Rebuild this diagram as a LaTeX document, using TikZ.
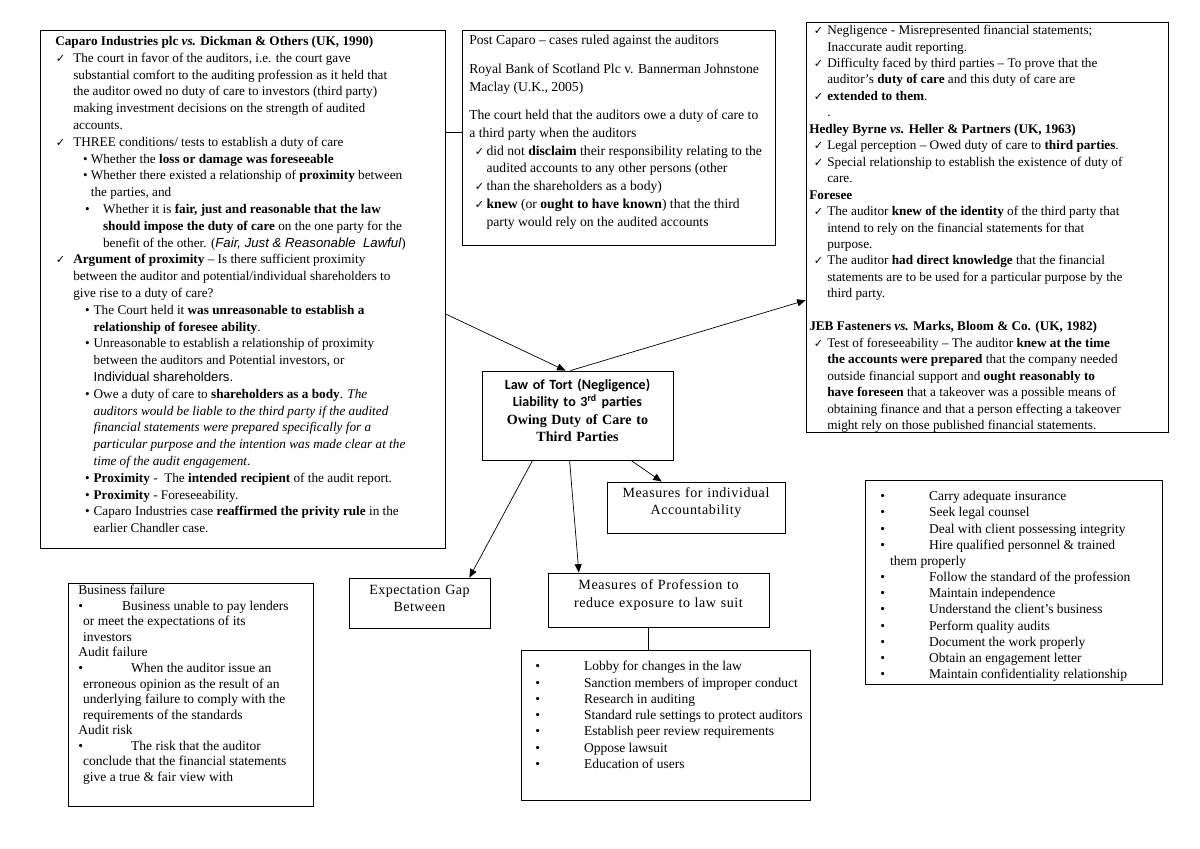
\documentclass[tikz,border=0pt]{standalone}
\usepackage{fontspec}
\setmainfont{Liberation Serif}
\setsansfont{Liberation Sans}
\newfontfamily\calibri{Carlito}
\newfontfamily\dejavu{DejaVu Sans}
\usetikzlibrary{fit,arrows.meta}

\newcommand{\tick}[1][12.8pt]{\makebox[#1][l]{\hspace{0.5pt}{\dejavu\fontsize{8}{8}\selectfont ✓}}}
\newcommand{\ind}[1][12.8pt]{\hspace*{#1}}
\newcommand{\blt}[2]{\hspace*{#1}\makebox[#2][l]{\textbullet}}
\newcommand{\mtick}{\ind[3.5pt]\tick[8.8pt]}
\newcommand{\rtick}{\ind[2.8pt]\tick[10pt]}

\begin{document}
\begin{tikzpicture}[x=0.025cm, y=-0.025cm,
box/.style={draw, line width=0.6pt, inner sep=0},
txt/.style={anchor=north west, inner sep=0, align=left},
arr/.style={-{Triangle[length=6pt,width=5pt]}, line width=0.5pt},
link/.style={line width=0.5pt}
]
\useasboundingbox (0,0) rectangle (1200,848);

\node[box, fit={(40,30) (445,548)}] (caparo) {};
\node[txt, font=\fontsize{9.4}{11.95}\selectfont] (caparotext) at (55,36) {%
\textbf{Caparo Industries plc \textit{vs.} Dickman \& Others (UK, 1990)}\\
\tick The court in favor of the auditors, i.e. the court gave\\
\ind substantial comfort to the auditing profession as it held that\\
\ind the auditor owed no duty of care to investors (third party)\\
\ind making investment decisions on the strength of audited\\
\ind accounts.\\
\tick THREE conditions/ tests to establish a duty of care\\
\blt{19.8pt}{5.5pt}Whether the \textbf{loss or damage was foreseeable}\\
\blt{19.8pt}{5.5pt}Whether there existed a relationship of \textbf{proximity} between\\
\ind[25.3pt]the parties, and\\
\blt{21.3pt}{12.8pt}Whether it is \textbf{fair, just and reasonable that the law}\\
\ind[34pt]\textbf{should impose the duty of care} on the one party for the\\
\ind[34pt]benefit of the other. ({\sffamily\itshape Fair, Just \& Reasonable\ \ Lawful})\\
\tick \textbf{Argument of proximity} -- Is there sufficient proximity\\
\ind between the auditor and potential/individual shareholders to\\
\ind give rise to a duty of care?\\
\blt{21.3pt}{6pt}The Court held it \textbf{was unreasonable to establish a}\\
\ind[27.3pt]\textbf{relationship of foresee ability}.\\
\blt{21.3pt}{6pt}Unreasonable to establish a relationship of proximity\\
\ind[27.3pt]between the auditors and Potential investors, or\\
\ind[27.3pt]{\sffamily Individual shareholders.}\\
\blt{21.3pt}{6pt}Owe a duty of care to \textbf{shareholders as a body}. \textit{The}\\
\ind[27.3pt]\textit{auditors would be liable to the third party if the audited}\\
\ind[27.3pt]\textit{financial statements were prepared specifically for a}\\
\ind[27.3pt]\textit{particular purpose and the intention was made clear at the}\\
\ind[27.3pt]\textit{time of the audit engagement}.\\
\blt{21.3pt}{6pt}\textbf{Proximity} -\ \ The \textbf{intended recipient} of the audit report.\\
\blt{21.3pt}{6pt}\textbf{Proximity} - Foreseeability.\\
\blt{21.3pt}{6pt}Caparo Industries case \textbf{reaffirmed the privity rule} in the\\
\ind[27.3pt]earlier Chandler case.};

\node[box, fit={(462,30) (775,245)}] (post) {};
\node[txt, font=\fontsize{9.7}{12.7}\selectfont] (posttext) at (469,35) {%
Post Caparo -- cases ruled against the auditors\\[7.5pt]
Royal Bank of Scotland Plc v. Bannerman Johnstone\\
Maclay (U.K., 2005)\\[7.5pt]
The court held that the auditors owe a duty of care to\\
a third party when the auditors\\
\mtick did not \textbf{disclaim} their responsibility relating to the\\
\ind[12.3pt]audited accounts to any other persons (other\\
\mtick than the shareholders as a body)\\
\mtick \textbf{knew} (or \textbf{ought to have known}) that the third\\
\ind[12.3pt]party would rely on the audited accounts};

\node[box, fit={(806,22) (1168,432)}] (cases) {};
\node[txt, font=\fontsize{9.4}{11.7}\selectfont] (casestext) at (809,25) {%
\rtick Negligence - Misrepresented financial statements;\\
\ind Inaccurate audit reporting.\\
\rtick Difficulty faced by third parties -- To prove that the\\
\ind auditor’s \textbf{duty of care} and this duty of care are\\
\rtick \textbf{extended to them}.\\
\ind .\\
\textbf{Hedley Byrne \textit{vs.} Heller \& Partners (UK, 1963)}\\
\rtick Legal perception -- Owed duty of care to \textbf{third parties}.\\
\rtick Special relationship to establish the existence of duty of\\
\ind care.\\
\textbf{Foresee}\\
\rtick The auditor \textbf{knew of the identity} of the third party that\\
\ind intend to rely on the financial statements for that\\
\ind purpose.\\
\rtick The auditor \textbf{had direct knowledge} that the financial\\
\ind statements are to be used for a particular purpose by the\\
\ind third party.\\[11.7pt]
\textbf{JEB Fasteners \textit{vs.} Marks, Bloom \& Co. (UK, 1982)}\\
\rtick Test of foreseeability -- The auditor \textbf{knew at the time}\\
\ind \textbf{the accounts were prepared} that the company needed\\
\ind outside financial support and \textbf{ought reasonably to}\\
\ind \textbf{have foreseen} that a takeover was a possible means of\\
\ind obtaining finance and that a person effecting a takeover\\
\ind might rely on those published financial statements.};

\node[box, fit={(482,371) (673,460)}, align=center, font=\fontsize{10}{12.2}\selectfont] (law) {%
{\calibri\bfseries Law of Tort (Negligence)}\\
{\calibri\bfseries Liability to 3\textsuperscript{rd} parties}\\
\textbf{Owing Duty of Care to}\\
\textbf{Third Parties}};

\node[box, fit={(607,482) (785,533)}, align=center, font=\fontsize{10}{12.6}\selectfont\addfontfeature{LetterSpace=4}] (indiv) {Measures for individual\\Accountability};
\node[box, fit={(349,578) (490,628)}, align=center, font=\fontsize{10}{12}\selectfont\addfontfeature{LetterSpace=3}] (gap) {Expectation Gap\\Between};
\node[box, fit={(548,573) (769,627)}, align=center, font=\fontsize{10}{12.6}\selectfont\addfontfeature{LetterSpace=4}] (prof) {Measures of Profession to\\reduce exposure to law suit};

\node[box, fit={(521,650) (810,800)}] (proflist) {};
\node[txt, font=\fontsize{9.6}{11.55}\selectfont] (proflisttext) at (535,661) {%
\blt{0pt}{34.7pt}Lobby for changes in the law\\
\blt{0pt}{34.7pt}Sanction members of improper conduct\\
\blt{0pt}{34.7pt}Research in auditing\\
\blt{0pt}{34.7pt}Standard rule settings to protect auditors\\
\blt{0pt}{34.7pt}Establish peer review requirements\\
\blt{0pt}{34.7pt}Oppose lawsuit\\
\blt{0pt}{34.7pt}Education of users};

\node[box, fit={(865,480) (1162,684)}] (indivlist) {};
\node[txt, font=\fontsize{9.6}{11.5}\selectfont] (indivlisttext) at (880,491) {%
\blt{0pt}{34.7pt}Carry adequate insurance\\
\blt{0pt}{34.7pt}Seek legal counsel\\
\blt{0pt}{34.7pt}Deal with client possessing integrity\\
\blt{0pt}{34.7pt}Hire qualified personnel \& trained\\
\ind[7pt]them properly\\
\blt{0pt}{34.7pt}Follow the standard of the profession\\
\blt{0pt}{34.7pt}Maintain independence\\
\blt{0pt}{34.7pt}Understand the client’s business\\
\blt{0pt}{34.7pt}Perform quality audits\\
\blt{0pt}{34.7pt}Document the work properly\\
\blt{0pt}{34.7pt}Obtain an engagement letter\\
\blt{0pt}{34.7pt}Maintain confidentiality relationship};

\node[box, fit={(68,583) (313,806)}] (failure) {};
\node[txt, font=\fontsize{9.6}{11.05}\selectfont] (failuretext) at (78,585) {%
Business failure\\
\blt{0pt}{31.2pt}Business unable to pay lenders\\
\ind[3.5pt]or meet the expectations of its\\
\ind[3.5pt]investors\\
Audit failure\\
\blt{0pt}{37.6pt}When the auditor issue an\\
\ind[3.5pt]erroneous opinion as the result of an\\
\ind[3.5pt]underlying failure to comply with the\\
\ind[3.5pt]requirements of the standards\\
Audit risk\\
\blt{0pt}{37.6pt}The risk that the auditor\\
\ind[3.5pt]conclude that the financial statements\\
\ind[3.5pt]give a true \& fair view with};

\draw[link] (post.178.4) -- (post.178.4 -| caparo.east);
\draw[arr] (caparo.-7.3) -- (law.105.7);
\draw[arr] (law.99.6) -- (cases.-158);
\draw[arr] (law.-135) -- (gap.27.8);
\draw[arr] (law.-100.8) -- (prof.161.5);
\draw[arr] (law.-40.3) -- (indiv.143.1);
\draw[link] (prof.-111.25) -- (prof.-111.25 |- proflist.north);
\end{tikzpicture}
\end{document}
